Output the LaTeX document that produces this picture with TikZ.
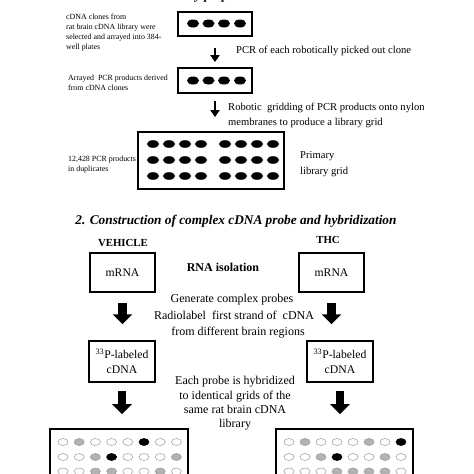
\documentclass[tikz,border=0pt]{standalone}
\usepackage{fontspec}
\setmainfont{Liberation Serif}
\usetikzlibrary{arrows.meta}
\begin{document}
\begin{tikzpicture}[x=1pt,y=-1pt,
  box/.style={draw,line width=1.8pt,inner sep=0pt},
  boxb/.style={draw,line width=1.5pt,inner sep=0pt,align=center,font=\fontsize{11.7}{15}\selectfont},
  smalltxt/.style={font=\fontsize{7.9}{10}\selectfont,align=left,anchor=mid west,inner sep=0pt},
  midtxt/.style={font=\fontsize{10.6}{15}\selectfont,align=left,anchor=mid west,inner sep=0pt},
  ctrtxt/.style={font=\fontsize{12}{14.5}\selectfont,align=center,anchor=mid,inner sep=0pt},
  thinarrow/.style={line width=2.6pt,-{Triangle[width=9pt,length=7pt]}},
  thickarrow/.style={line width=8.5pt,-{Triangle[width=19pt,length=10pt]}},
  d0/.style={fill=white,draw=gray!70,line width=0.6pt},
  d1/.style={fill=gray!60,draw=gray!75,line width=0.6pt},
  d2/.style={fill=black,draw=black,line width=0.6pt}]
\useasboundingbox[fill=white] (0,0) rectangle (474,474);

% ---------- Section 1 ----------
\node[font=\fontsize{13}{14}\selectfont\bfseries\itshape,anchor=base,inner sep=0pt] (t1) at (207,-0.8) {1. Library preparation};

\node[box,minimum width=74pt,minimum height=24pt] (b1) at (215,24) {};
\node[box,minimum width=74pt,minimum height=25pt] (b2) at (215,80.5) {};
\node[box,minimum width=146pt,minimum height=57pt] (b3) at (211,160.5) {};

\foreach \x in {193,208.5,224,240}{
  \fill (\x,23.5) ellipse (6pt and 4pt);
  \fill (\x,80.5) ellipse (6pt and 4pt);
}
\foreach \y in {144,160,176}{
  \foreach \x in {153,169,185,201,225,241,257,273}{
    \fill (\x,\y) ellipse (6pt and 3.8pt);
  }
}

\node[smalltxt] (l1) at (66,17) {cDNA clones from};
\node[smalltxt] (l2) at (66,27) {rat brain cDNA library were};
\node[smalltxt] (l3) at (66,37) {selected and arrayed into 384-};
\node[smalltxt] (l4) at (66,47) {well plates};
\node[smalltxt] (l5) at (68,78.5) {Arrayed\ \ PCR products derived};
\node[smalltxt] (l6) at (68,88.5) {from cDNA clones};
\node[smalltxt] (l7) at (68,159) {12,428 PCR products};
\node[smalltxt] (l8) at (68,169) {in duplicates};

\node[midtxt] (m1) at (236,51.5) {PCR of each robotically picked out clone};
\node[midtxt] (m2) at (228,108) {Robotic\ \ gridding of PCR products onto nylon};
\node[midtxt] (m3) at (228,123.5) {membranes to produce a library grid};
\node[midtxt] (m4) at (300,156) {Primary};
\node[midtxt] (m5) at (300,172) {library grid};

\draw[thinarrow,shorten <=11pt,shorten >=5pt] (b1.south) -- (b2.north);
\draw[thinarrow,shorten <=7pt,shorten >=14pt] (b2.south) -- (b2.south |- b3.north);

% ---------- Section 2 ----------
\node[font=\fontsize{13.3}{15}\selectfont\bfseries\itshape,anchor=mid,inner sep=0pt] (t2) at (236,222) {2. Construction of complex cDNA probe and hybridization};
\node[font=\fontsize{10.8}{13}\selectfont\bfseries,anchor=mid,inner sep=0pt] (veh) at (123,244) {VEHICLE};
\node[font=\fontsize{10.8}{13}\selectfont\bfseries,anchor=mid,inner sep=0pt] (thc) at (328,241) {THC};

\node[boxb,minimum width=65pt,minimum height=39pt] (mrl) at (122.5,272.5) {mRNA};
\node[boxb,minimum width=65pt,minimum height=39pt] (mrr) at (331.5,272.5) {mRNA};
\node[font=\fontsize{12}{14}\selectfont\bfseries,anchor=mid,inner sep=0pt] (iso) at (223,269) {RNA isolation};

\node[ctrtxt] (g1) at (232,300) {Generate complex probes};
\node[ctrtxt] (g2) at (234,317) {Radiolabel\ \ first strand of\ \ cDNA};
\node[ctrtxt] (g3) at (238,333) {from different brain regions};

\node[boxb,minimum width=66pt,minimum height=41pt] (pl) at (122,361.5) {\textsuperscript{33}P-labeled\\cDNA};
\node[boxb,minimum width=66pt,minimum height=41pt] (pr) at (340,361.5) {\textsuperscript{33}P-labeled\\cDNA};

\node[ctrtxt] (h1) at (235,382) {Each probe is hybridized};
\node[ctrtxt] (h2) at (235,397) {to identical grids of the};
\node[ctrtxt] (h3) at (235,411) {same rat brain cDNA};
\node[ctrtxt] (h4) at (235,425) {library};

\node[box,line width=1.6pt,minimum width=138pt,minimum height=62pt] (gl) at (119,460) {};
\node[box,line width=1.6pt,minimum width=137pt,minimum height=62pt] (gr) at (344.5,460) {};

\draw[thickarrow,shorten <=10pt,shorten >=16pt] (mrl.south) -- (mrl.south |- pl.north);
\draw[thickarrow,shorten <=10pt,shorten >=16pt] (mrr.south) -- (mrr.south |- pr.north);
\draw[thickarrow,shorten <=8pt,shorten >=14pt] (pl.south) -- (pl.south |- gl.north);
\draw[thickarrow,shorten <=8pt,shorten >=14pt] (pr.south) -- (pr.south |- gr.north);

% left grid dots
\foreach \c [count=\i from 0] in {0,1,0,0,0,2,0,0}{\path[d\c] (63+16.2*\i,442) ellipse (5pt and 3.5pt);}
\foreach \c [count=\i from 0] in {0,0,1,2,0,0,0,1}{\path[d\c] (63+16.2*\i,457) ellipse (5pt and 3.5pt);}
\foreach \c [count=\i from 0] in {0,0,1,1,0,0,1,0}{\path[d\c] (63+16.2*\i,471.5) ellipse (5pt and 3.5pt);}
% right grid dots
\foreach \c [count=\i from 0] in {0,1,0,0,0,1,0,2}{\path[d\c] (289+16*\i,442) ellipse (5pt and 3.5pt);}
\foreach \c [count=\i from 0] in {0,0,1,2,0,0,1,0}{\path[d\c] (289+16*\i,457) ellipse (5pt and 3.5pt);}
\foreach \c [count=\i from 0] in {0,0,0,1,1,1,1,0}{\path[d\c] (289+16*\i,471.5) ellipse (5pt and 3.5pt);}
\end{tikzpicture}
\end{document}
